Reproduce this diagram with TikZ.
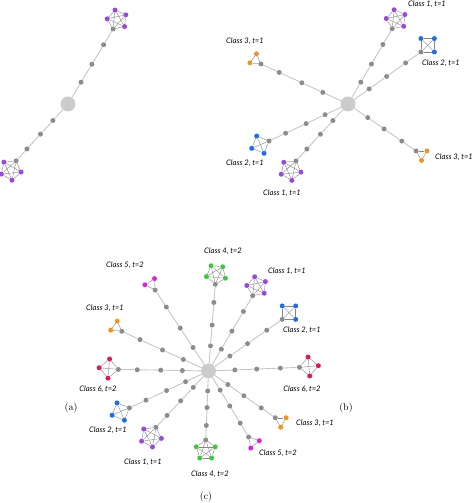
\documentclass[tikz,border=0pt]{standalone}
\usepackage{fontspec}
\usepackage{tikz}
\usetikzlibrary{calc, positioning}
\newfontfamily\classfont{Lato}
\definecolor{myviolet}{RGB}{155,70,220}
\definecolor{myblue}{RGB}{30,110,235}
\definecolor{myorange}{RGB}{240,150,30}
\definecolor{mygreen}{RGB}{60,200,60}
\definecolor{mymagenta}{RGB}{230,30,220}
\definecolor{myred}{RGB}{230,20,80}
\definecolor{mygray}{RGB}{140,140,140}
\tikzset{
   myhub/.style={circle, fill=gray!40, inner sep=0pt, minimum size=15pt},
   mydot/.style={circle, fill=mygray, inner sep=0pt, minimum size=5pt},
   myarm/.style={draw=gray!45, line width=0.9pt},
   myedge/.style={draw=gray!95, line width=0.4pt},
   mylabel/.style={font=\classfont\itshape\fontsize{7.6}{9}\selectfont, inner sep=0pt},
   mycaption/.style={font=\fontsize{10}{12}\selectfont, inner sep=0pt}
}
% #1 name, #2 hub, #3 angle, #4 length, #5 clique size, #6 colour, #7 turn, #8 radius
\newcommand\classarm[8]{%
  \node[mydot] (#1-v0) at ($(#2)+(#3:#4)$) {};
  \foreach \f [count=\k] in {0.29,0.53,0.79}
    \node[mydot] (#1-c\k) at ($(#2)+(#3:{\f*#4})$) {};
  \draw[myarm] (#2) -- (#1-c1) -- (#1-c2) -- (#1-c3) -- (#1-v0);
  \pgfmathtruncatemacro\last{#5-1}
  \foreach \k in {1,...,\last}
    \node[mydot, fill=#6] (#1-v\k) at ($(#1-v0)+(#7:#8)+({#7+180+\k*360/#5}:#8)$) {};
  \foreach \i in {0,...,\last}
    \foreach \j in {0,...,\last}
      {\ifnum\j>\i \draw[myedge] (#1-v\i) -- (#1-v\j);\fi}
}

\begin{document}
\begin{tikzpicture}[x=1pt, y=1pt]
  \useasboundingbox (0,0) rectangle (474,503);

  % (a)
  \node[myhub] (ha) at (68,399) {};
  \foreach \nm/\ang/\len/\sz/\col/\trn/\rad in {
      a1t/59/87.5/5/myviolet/66/10,
      a1b/-132.4/77/5/myviolet/-120/10.4}
    \classarm{\nm}{ha}{\ang}{\len}{\sz}{\col}{\trn}{\rad};
  \node[mycaption] (capa) at (71,95) {(a)};

  % (b)
  \node[myhub] (hb) at (348,399) {};
  \foreach \nm/\ang/\len/\sz/\col/\trn/\rad in {
      b1t/59.6/87.3/5/myviolet/66/10,
      b2t/35.5/89.6/4/myblue/45/9.5,
      b3l/155.3/95.8/3/myorange/144/6.4,
      b3r/-34.6/82.7/3/myorange/-30/6.3,
      b2b/-154.9/87.2/4/myblue/-157/9.4,
      b1b/-132.4/77.2/5/myviolet/-120/10.4}
    \classarm{\nm}{hb}{\ang}{\len}{\sz}{\col}{\trn}{\rad};
  \node[mylabel] (lb1t) at (427,499) {Class 1, t=1};
  \node[mylabel] (lb2t) at (441,440) {Class 2, t=1};
  \node[mylabel] (lb3l) at (245,462) {Class 3, t=1};
  \node[mylabel] (lb3r) at (454,346) {Class 3, t=1};
  \node[mylabel] (lb2b) at (245,340) {Class 2, t=1};
  \node[mylabel] (lb1b) at (282,310) {Class 1, t=1};
  \node[mycaption] (capb) at (346,95) {(b)};

  % (c)
  \node[myhub] (hc) at (208.5,132) {};
  \foreach \nm/\ang/\len/\sz/\col/\trn/\rad in {
      c4t/85.5/87/5/mygreen/85/10,
      c1t/59.6/87.3/5/myviolet/66/10,
      c2t/35/90/4/myblue/45/9.5,
      c6r/2.3/91/4/myred/5/9.5,
      c3r/-35/81.5/3/myorange/-30/6.3,
      c5r/-58.7/77.3/3/mymagenta/-49/6.5,
      c4b/-92.3/69/5/mygreen/-90/10,
      c1b/-133/77/5/myviolet/-118/10.5,
      c2b/-155/87.3/4/myblue/-157/9.4,
      c6l/179/90.2/4/myred/175/9.6,
      c3l/155.4/95.4/3/myorange/144/6.4,
      c5l/123.4/97/3/mymagenta/123/6.6}
    \classarm{\nm}{hc}{\ang}{\len}{\sz}{\col}{\trn}{\rad};
  \node[mylabel] (lc4t) at (223,252) {Class 4, t=2};
  \node[mylabel] (lc1t) at (287,232) {Class 1, t=1};
  \node[mylabel] (lc2t) at (302,173) {Class 2, t=1};
  \node[mylabel] (lc6r) at (302,114) {Class 6, t=2};
  \node[mylabel] (lc3r) at (315,80) {Class 3, t=1};
  \node[mylabel] (lc5r) at (278,50) {Class 5, t=2};
  \node[mylabel] (lc4b) at (210,29) {Class 4, t=2};
  \node[mylabel] (lc1b) at (143,41) {Class 1, t=1};
  \node[mylabel] (lc2b) at (108,73) {Class 2, t=1};
  \node[mylabel] (lc6l) at (98,114) {Class 6, t=2};
  \node[mylabel] (lc3l) at (105,195) {Class 3, t=1};
  \node[mylabel] (lc5l) at (125,238) {Class 5, t=2};
  \node[mycaption] (capc) at (206,6) {(c)};
\end{tikzpicture}
\end{document}
